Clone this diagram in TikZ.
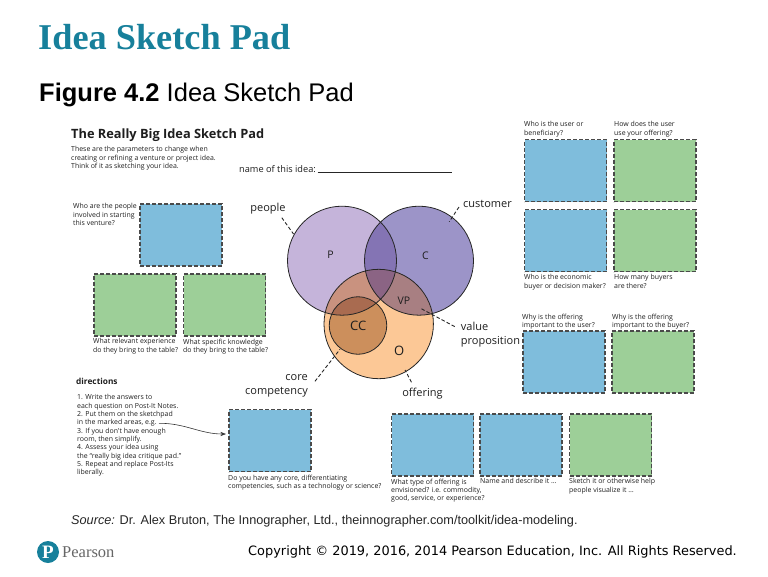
\documentclass[tikz,border=0pt]{standalone}
\usepackage{fontspec}
\setmainfont{Liberation Sans}
\newfontfamily\padfont{Open Sans}
\newfontfamily\titlefont{Liberation Serif}
\newfontfamily\copyfont{DejaVu Sans}
\usetikzlibrary{arrows.meta,calc}
\definecolor{padblue}{HTML}{7FBDDC}
\definecolor{padgreen}{HTML}{9DCF98}
\definecolor{padink}{HTML}{1E1E1E}
\definecolor{padrule}{HTML}{4A4A4A}
\definecolor{slideteal}{HTML}{17809B}
\definecolor{circP}{HTML}{C5B4DA}
\definecolor{circC}{HTML}{9C94C8}
\definecolor{circO}{HTML}{FCC896}
\definecolor{overPC}{HTML}{8474B4}
\definecolor{overPO}{HTML}{C9927F}
\definecolor{overCO}{HTML}{A87F82}
\definecolor{overPCO}{HTML}{8B6484}
\definecolor{circCC}{HTML}{CC8F5C}
\definecolor{overPCC}{HTML}{A96B50}
\tikzset{
  padbox/.style={draw=padrule,line width=1.1pt,dash pattern=on 4pt off 2pt,
    minimum width=82pt,minimum height=62pt,inner sep=0pt,outer sep=0pt},
  bluebox/.style={padbox,fill=padblue},
  greenbox/.style={padbox,fill=padgreen},
  caption/.style={anchor=north west,align=left,inner sep=0pt,text=padink,
    font={\padfont\fontsize{6.95}{8.3}\selectfont}},
  padlabel/.style={inner sep=0pt,text=padink,font={\padfont\fontsize{11}{13.4}\selectfont}},
  leader/.style={draw=black!85,line width=0.9pt,dash pattern=on 3.5pt off 2.2pt},
  ring/.style={draw=black!85,line width=0.8pt}
}
\def\ringP{(342,260.7) circle (54.5)}
\def\ringC{(419,260.7) circle (54.5)}
\def\ringO{(378.7,324) circle (54.7)}
\def\ringCC{(358,325.5) circle (28.7)}
\begin{document}
\begin{tikzpicture}[x=1pt,y=-1pt,>=Stealth]
  \useasboundingbox (0,0) rectangle (768,576);

  % slide heading
  \node[anchor=west,inner sep=0pt,text=slideteal,font={\titlefont\bfseries\fontsize{36.3}{38}\selectfont}]
    (slidetitle) at (38,37) {Idea Sketch Pad};
  \node[anchor=west,inner sep=0pt,font=\fontsize{25.5}{28}\selectfont]
    (figtitle) at (39,94.5) {\textbf{Figure 4.2} Idea Sketch Pad};

  % sheet heading
  \node[anchor=west,inner sep=0pt,text=padink,font={\padfont\bfseries\fontsize{12.8}{15}\selectfont}]
    (sheettitle) at (71,135.5) {The Really Big Idea Sketch Pad};
  \node[caption] (sheetintro) at (71,146.5) {These are the parameters to change when\\creating or refining a venture or project idea.\\Think of it as sketching your idea.};
  \node[anchor=west,inner sep=0pt,text=padink,font={\padfont\fontsize{9.2}{11}\selectfont}]
    (ideaname) at (239,169) {name of this idea:};
  \coordinate (nameend) at (452,172.5);
  \draw[black!85,line width=0.8pt] (ideaname.east |- nameend) ++(1.5,0) -- (nameend);

  % circles
  \fill[circP] \ringP;
  \fill[circC] \ringC;
  \fill[circO] \ringO;
  \begin{scope}
    \clip \ringP;
    \fill[overPC] \ringC;
    \fill[overPO] \ringO;
  \end{scope}
  \begin{scope}
    \clip \ringC;
    \fill[overCO] \ringO;
    \clip \ringP;
    \fill[overPCO] \ringO;
  \end{scope}
  \fill[circCC] \ringCC;
  \begin{scope}
    \clip \ringP;
    \fill[overPCC] \ringCC;
  \end{scope}
  \draw[ring] \ringP;
  \draw[ring] \ringC;
  \draw[ring] \ringO;
  \draw[ring] \ringCC;

  % letters in the circles
  \node[padlabel,font={\padfont\fontsize{10.5}{12}\selectfont}] (letterP) at (330.5,255) {P};
  \node[padlabel,font={\padfont\fontsize{10.5}{12}\selectfont}] (letterC) at (425.5,256) {C};
  \node[padlabel,font={\padfont\fontsize{10.5}{12}\selectfont}] (letterVP) at (404,301) {VP};
  \node[padlabel,font={\padfont\fontsize{13}{15}\selectfont}] (letterCC) at (358.3,325.7) {CC};
  \node[padlabel,font={\padfont\fontsize{13}{15}\selectfont}] (letterO) at (399.3,350.7) {O};

  % names round the circles
  \node[padlabel] (people) at (268,209) {people};
  \node[padlabel] (customer) at (487.5,204) {customer};
  \node[padlabel,anchor=west,align=left] (valueprop) at (460.7,334.5) {value\\proposition};
  \node[padlabel,anchor=east,align=right] (corecomp) at (308,386) {core\\competency};
  \node[padlabel] (offering) at (422.5,394) {offering};

  \coordinate (peoplefoot) at (293.5,234);
  \coordinate (customerfoot) at (449.3,221.7);
  \coordinate (valuefoot) at (420,308);
  \coordinate (corefoot) at (340,349.3);
  \coordinate (offerfoot) at (405,370);
  \draw[leader] (people.south east) ++(-4,3) -- (peoplefoot);
  \draw[leader] (customer.west) ++(-4,3) -- (customerfoot);
  \draw[leader] (valueprop.north west) ++(-6,4.5) -- (valuefoot);
  \draw[leader] (corecomp.north east) ++(7,6.5) -- (corefoot);
  \draw[leader] (offering.north) ++(-11,-6) -- (offerfoot);

  % people
  \node[bluebox] (startbox) at (181,235) {};
  \node[caption] (startcap) at (73,203.5) {Who are the people\\involved in starting\\this venture?};
  \node[greenbox] (expbox) at (135,305) {};
  \node[greenbox] (knowbox) at (224.5,305) {};
  \node[caption] (expcap) at (93,338.5) {What relevant experience\\do they bring to the table?};
  \node[caption] (knowcap) at (183,338.5) {What specific knowledge\\do they bring to the table?};

  % directions
  \node[anchor=west,inner sep=0pt,text=padink,font={\padfont\bfseries\fontsize{8.3}{10}\selectfont}]
    (dirhead) at (76,381) {directions};
  \node[caption] (dirlist) at (77,394.5) {1. Write the answers to\\each question on Post-It Notes.\\2. Put them on the sketchpad\\in the marked areas, e.g.\\3. If you don't have enough\\room, then simplify.\\4. Assess your idea using\\the “really big idea critique pad.”\\5. Repeat and replace Post-Its\\liberally.};

  % core competency
  \node[bluebox] (corebox) at (270,440.5) {};
  \node[caption] (corecap) at (228,474.5) {Do you have any core, differentiating\\competencies, such as a technology or science?};
  \coordinate (arrowstart) at (159,423.3);
  \coordinate (arrowend) at (226,434);
  \draw[->,black!80,line width=0.6pt] (arrowstart) .. controls (185,423) and (200,434) .. (arrowend);

  % customer
  \node[bluebox] (userbox) at (565.5,170.5) {};
  \node[greenbox] (usebox) at (655,170.5) {};
  \node[bluebox] (buyerbox) at (565.5,240.5) {};
  \node[greenbox] (manybox) at (655,240.5) {};
  \node[caption] (usercap) at (524,121.5) {Who is the user or\\beneficiary?};
  \node[caption] (usecap) at (614,121.5) {How does the user\\use your offering?};
  \node[caption] (buyercap) at (524,274.5) {Who is the economic\\buyer or decision maker?};
  \node[caption] (manycap) at (614,274.5) {How many buyers\\are there?};

  % value proposition
  \node[bluebox] (whyuserbox) at (564,362) {};
  \node[greenbox] (whybuyerbox) at (653,362) {};
  \node[caption] (whyusercap) at (522,313.5) {Why is the offering\\important to the user?};
  \node[caption] (whybuyercap) at (612,313.5) {Why is the offering\\important to the buyer?};

  % offering
  \node[bluebox] (typebox) at (432.5,445) {};
  \node[bluebox] (namebox) at (521,445) {};
  \node[greenbox] (sketchbox) at (610.5,445) {};
  \node[caption] (typecap) at (391,478.5) {What type of offering is\\envisioned? i.e. commodity,\\good, service, or experience?};
  \node[caption] (namecap) at (480,478.5) {Name and describe it \dots};
  \node[caption] (sketchcap) at (569,478.5) {Sketch it or otherwise help\\people visualize it \dots};

  % slide footer
  \node[anchor=west,inner sep=0pt,text=black!85,font=\fontsize{12.7}{15}\selectfont]
    (source) at (71,521) {\textit{Source:} Dr. Alex Bruton, The Innographer, Ltd., theinnographer.com/toolkit/idea-modeling.};
  \node[circle,fill=slideteal,minimum size=22pt,inner sep=0pt,text=white,font={\titlefont\bfseries\fontsize{19}{20}\selectfont}]
    (logo) at (48,552) {P};
  \node[anchor=west,inner sep=0pt,text=black!60,font={\titlefont\fontsize{16.5}{18}\selectfont}]
    (pearson) at (62,552) {Pearson};
  \node[anchor=east,inner sep=0pt,font={\copyfont\fontsize{12.9}{15}\selectfont}]
    (copyright) at (737,552) {Copyright © 2019, 2016, 2014 Pearson Education, Inc. All Rights Reserved.};
\end{tikzpicture}
\end{document}
